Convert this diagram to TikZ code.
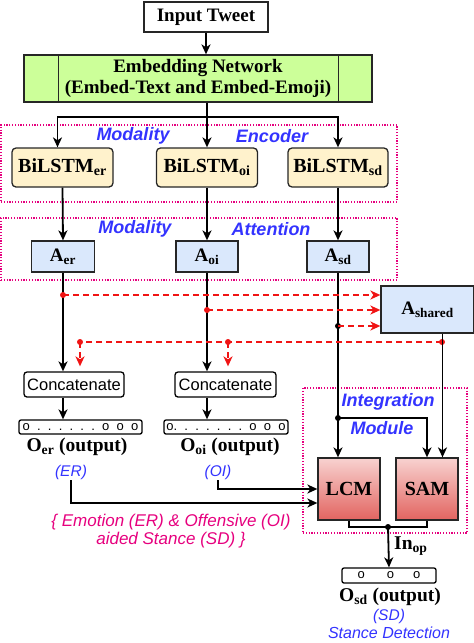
\documentclass[tikz,border=0pt]{standalone}
\usepackage{fontspec}
\setmainfont{Liberation Serif}
\setsansfont{Liberation Sans}
\usetikzlibrary{arrows.meta}
\definecolor{pinkdot}{RGB}{230,0,126}
\definecolor{lblue}{RGB}{51,51,255}
\definecolor{embgreen}{RGB}{204,255,153}
\definecolor{bifill}{RGB}{255,242,204}
\definecolor{afill}{RGB}{218,232,252}
\definecolor{redtop}{RGB}{248,210,208}
\definecolor{redbot}{RGB}{226,100,96}
\definecolor{dred}{RGB}{240,20,20}
\begin{document}
\begin{tikzpicture}[x=1pt,y=-1pt,
  box/.style={draw=black!85, line width=1.3pt, inner sep=0pt, align=center,
    font=\bfseries\fontsize{19}{21}\selectfont},
  bibox/.style={box, rounded corners=4pt, fill=bifill, minimum width=101pt, minimum height=39pt,
    font=\bfseries\fontsize{20}{22}\selectfont},
  abox/.style={box, fill=afill, minimum width=62pt, minimum height=31pt},
  ccbox/.style={draw=black, line width=1.3pt, rounded corners=3pt, fill=white, inner sep=0pt,
    minimum width=100pt, minimum height=25pt, font=\sffamily\fontsize{16.5}{18}\selectfont},
  obox/.style={draw=black, line width=1.3pt, rounded corners=2pt, inner sep=0pt,
    minimum height=14pt, font=\sffamily\fontsize{13}{13}\selectfont},
  mbox/.style={box, minimum width=62pt, minimum height=62pt,
    top color=redtop, bottom color=redbot, font=\bfseries\fontsize{20}{22}\selectfont},
  region/.style={draw=pinkdot, line width=1.5pt, dash pattern=on 1.2pt off 1.6pt, inner sep=0pt},
  reglab/.style={text=lblue, font=\sffamily\bfseries\itshape\fontsize{18}{20}\selectfont, inner sep=0pt},
  outlab/.style={font=\bfseries\fontsize{19.5}{21}\selectfont, inner sep=0pt},
  taglab/.style={text=lblue, font=\sffamily\itshape\fontsize{15.5}{17}\selectfont, inner sep=1pt},
  arr/.style={line width=1.8pt, -{Stealth[length=10pt,width=9pt,inset=3pt]}},
  ln/.style={line width=1.8pt},
  darr/.style={dred, line width=1.8pt, dash pattern=on 6pt off 4pt, -{Stealth[length=10pt,width=9pt,inset=3pt]}},
  dln/.style={dred, line width=1.8pt, dash pattern=on 6pt off 4pt},
  rdot/.style={circle, fill=dred, inner sep=0pt, minimum size=6pt},
  kdot/.style={circle, fill=black, inner sep=0pt, minimum size=6pt},
]
\useasboundingbox (0,0) rectangle (474,643);

% regions
\node[region, minimum width=396pt, minimum height=77pt] (enc) at (199,163.5) {};
\node[region, minimum width=396pt, minimum height=62pt] (att) at (199,249) {};
\node[region, minimum width=164pt, minimum height=145pt] (integ) at (385,460.5) {};
\node[reglab] (encl1) at (133,136) {Modality};
\node[reglab] (encl2) at (272,136) {Encoder};
\node[reglab] (attl1) at (135,229) {Modality};
\node[reglab] (attl2) at (271,229) {Attention};
\node[reglab] (intl1) at (388,402) {Integration};
\node[reglab] (intl2) at (382,428) {Module};

% top
\node[box, fill=white, minimum width=124pt, minimum height=30pt] (in) at (206,17) {Input Tweet};
\node[box, fill=embgreen, minimum width=348pt, minimum height=47pt] (emb) at (198,78.5)
  {Embedding Network\\(Embed-Text and Embed-Emoji)};
\draw[line width=1.3pt, black!85] ([xshift=35pt]emb.north west) -- ([xshift=35pt]emb.south west);
\draw[line width=1.3pt, black!85] ([xshift=-34pt]emb.north east) -- ([xshift=-34pt]emb.south east);

% BiLSTM
\node[bibox] (ber) at (62.5,167.5) {BiLSTM\textsubscript{er}};
\node[bibox] (boi) at (207,167.5) {BiLSTM\textsubscript{oi}};
\node[bibox, minimum width=100pt] (bsd) at (338,167.5) {BiLSTM\textsubscript{sd}};

% attention
\node[abox, minimum width=63pt] (aer) at (63,256.5) {A\textsubscript{er}};
\node[abox] (aoi) at (207,256.5) {A\textsubscript{oi}};
\node[abox] (asd) at (338,256.5) {A\textsubscript{sd}};
\node[abox, minimum width=93pt, minimum height=47pt] (ash) at (427.5,309.5) {A\textsubscript{shared}};

% concatenate & outputs
\node[ccbox] (cer) at (74,384.5) {Concatenate};
\node[ccbox, minimum width=101pt] (coi) at (225.5,384.5) {Concatenate};
\node[obox, minimum width=123pt] (oer) at (80.5,427) {o\ \ .\ \ .\ \ .\ \ .\ \ .\ \ .\ \ o\ \ o\ \ o};
\node[obox, minimum width=124pt] (ooi) at (226,427) {o.\ \ .\ \ .\ \ .\ \ .\ \ .\ \ .\ \ o\ \ o\ \ o};
\node[outlab] (oerl) at (77,447) {O\textsubscript{er} (output)};
\node[outlab] (ooil) at (230,447) {O\textsubscript{oi} (output)};
\node[taglab] (ertag) at (71,472) {(ER)};
\node[taglab] (oitag) at (218,472) {(OI)};
\node[text=pinkdot, font=\sffamily\itshape\fontsize{17}{18.5}\selectfont, align=center, inner sep=0pt]
  (aided) at (171,531) {\{ Emotion (ER) \& Offensive (OI)\\aided Stance (SD) \}};

% integration
\node[mbox] (lcm) at (349,489) {LCM};
\node[mbox] (sam) at (427,489) {SAM};
\node[obox, minimum width=94pt, minimum height=15pt] (osd) at (389,575.5) {o\hspace{22pt}o\hspace{19pt}o};
\node[outlab] (osdl) at (390,597) {O\textsubscript{sd} (output)};
\node[taglab] (sdtag) at (389,616) {(SD)};
\node[taglab, font=\sffamily\itshape\fontsize{16}{18}\selectfont] (stance) at (389,632.5) {Stance Detection};
\node[outlab, anchor=west] (inop) at (394,546) {In\textsubscript{op}};

% connectors top
\coordinate (split) at (207,117);
\draw[arr] (in.south) -- (in.south |- emb.north);
\draw[arr] (split |- emb.south) -- (boi.north);
\draw[arr] (split) -| ([xshift=-5pt]ber.north);
\draw[arr] (split) -| (bsd.north);
\draw[arr] (ber.south) -- (aer.north);
\draw[arr] (boi.south) -- (aoi.north);
\draw[arr] (bsd.south) -- (asd.north);
\draw[arr] (aer.south) -- (aer.south |- cer.north);
\draw[arr] (aoi.south) -- (aoi.south |- coi.north);
\draw[arr] (aer.south |- cer.south) -- (aer.south |- oer.north);
\draw[arr] (aoi.south |- coi.south) -- (aoi.south |- ooi.north);
\draw[arr] (asd.south) -- (asd.south |- lcm.north);

% shared attention (red dashed)
\node[rdot] (d1) at (63,295) {};
\node[rdot] (d2) at (207,310) {};
\node[kdot] (d3) at (338,326) {};
\draw[darr] (d1.center) -- (d1.center -| ash.west);
\draw[darr] (d2.center) -- (d2.center -| ash.west);
\draw[darr] (d3.center) -- (d3.center -| ash.west);
\coordinate (ashb) at ([xshift=15pt]ash.south);
\node[rdot] (d4) at (442,342) {};
\node[rdot] (d5) at (80,342) {};
\node[rdot] (d6) at (228,342) {};
\draw[dln] (d4.center) -- (d5.center);
\draw[darr] (d5.center) -- ([yshift=5pt]d5.center |- cer.north);
\draw[darr] (d6.center) -- ([yshift=5pt]d6.center |- coi.north);
\draw[arr] (ashb) -- (ashb |- sam.north);

% integration connectors
\node[kdot] (j1) at (338,418) {};
\draw[arr] (j1.center) -| (sam.north);
\draw[arr] (oitag.south) |- (lcm.west);
\draw[arr] (ertag.south) |- ([yshift=-14pt]lcm.west);
\node[kdot] (join) at (388,527) {};
\draw[ln] (lcm.south) |- (join.center) -| (sam.south);
\draw[arr] (join.center) -- (osd.north);
\end{tikzpicture}
\end{document}
